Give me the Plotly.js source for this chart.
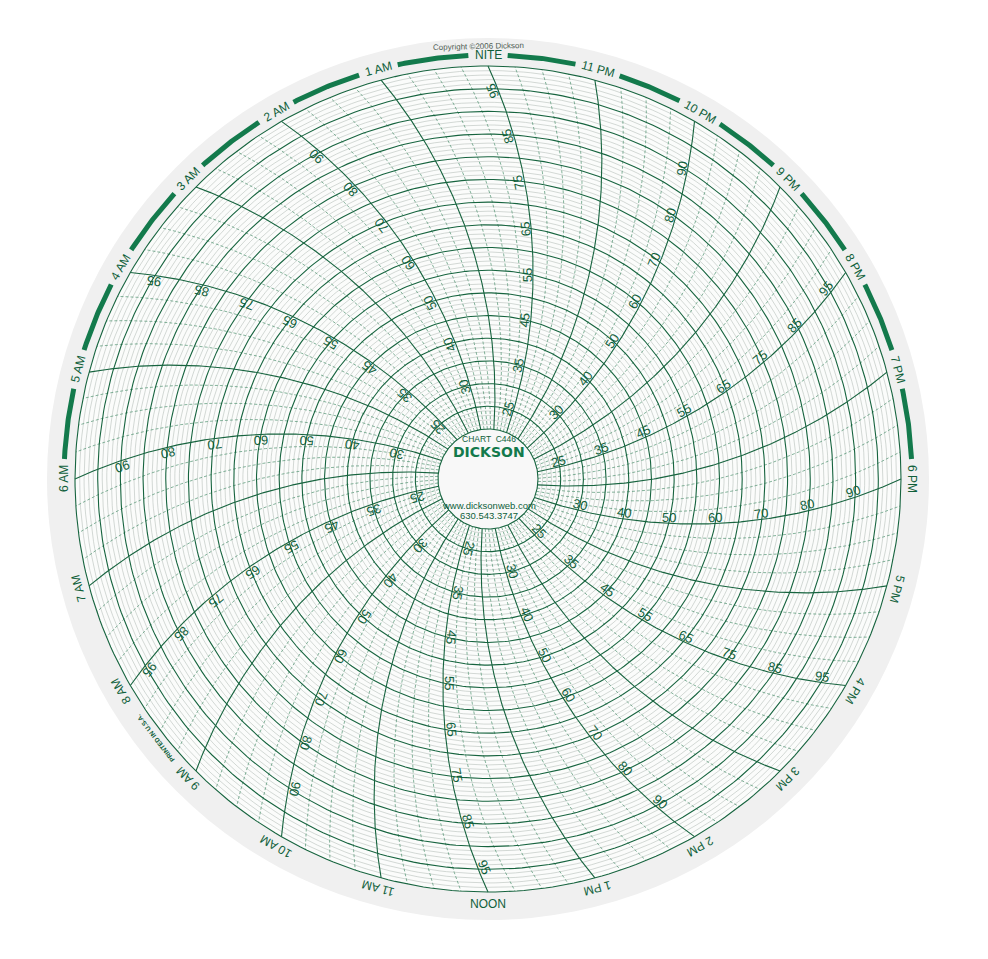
<!DOCTYPE html>
<html><head><meta charset="utf-8">
<script src="https://cdn.plot.ly/plotly-3.0.1.min.js"></script>
<style>html,body{margin:0;padding:0;background:#ffffff;}</style>
</head><body><div id="chart" style="width:988px;height:959px;"></div>
<script>
// ---------------- data ----------------
const hourLabels = ['NITE','1 AM','2 AM','3 AM','4 AM','5 AM','6 AM','7 AM','8 AM','9 AM','10 AM','11 AM',
                    'NOON','1 PM','2 PM','3 PM','4 PM','5 PM','6 PM','7 PM','8 PM','9 PM','10 PM','11 PM'];
const scaleMin = 20;
const scaleMax = 100;
const minorStep = 1;
const majorStep = 5;
const subdivisionsPerHour = 4;
const oddLabelValues  = [25, 35, 45, 55, 65, 75, 85, 95];
const evenLabelValues = [30, 40, 50, 60, 70, 80, 90];
const oddLabelHours   = [0, 4, 8, 12, 16, 20];
const evenLabelHours  = [2, 6, 10, 14, 18, 22];
const bandHours       = [18, 19, 20, 21, 22, 23, 0, 1, 2, 3, 4, 5];
const hubLines = ['CHART  C446', 'DICKSON', 'www.dicksonweb.com', '630.543.3747'];
const copyrightText = 'Copyright ©2006 Dickson';
const printedText = 'PRINTED IN U.S.A.';

// ---------------- geometry / style ----------------
const R_OUT = 413, R_HUB = 50, ARM = 1.2 * R_OUT, LABEL_R = 424, DISC_R = 441;
const DARK = '#17643f', BAND = '#137a4c', LIGHT = '#b7c0bb', MID = '#5a9878', TXT = '#0f5f3a';
const FONT = '"Liberation Sans", Arial, sans-serif';
const K = (R_OUT - R_HUB) / (scaleMax - scaleMin);
const D2R = Math.PI / 180;
const TH_R = Math.acos(R_OUT / (2 * ARM));
function rad(v) { return R_HUB + (v - scaleMin) * K; }
function phi(r) { return Math.acos(r / (2 * ARM)) - TH_R; }
function pt(t, v) {
  const r = rad(v);
  const a = (90 + 15 * t) * D2R - phi(r);
  return [r * Math.cos(a), r * Math.sin(a)];
}
function normAng(a) { while (a > 180) a -= 360; while (a <= -180) a += 360; return a; }

const ctx = document.createElement('canvas').getContext('2d');
ctx.font = '12px "Liberation Sans"';
function tw(s) { return ctx.measureText(s).width; }

// ---------------- traces ----------------
function circleTrace(filterFn, color, width) {
  const x = [], y = [];
  for (let v = scaleMin; v <= scaleMax; v += minorStep) {
    if (!filterFn(v)) continue;
    const r = rad(v);
    for (let d = 0; d <= 360; d += 1) { x.push(r * Math.cos(d * D2R)); y.push(r * Math.sin(d * D2R)); }
    x.push(null); y.push(null);
  }
  return {type: 'scatter', mode: 'lines', x, y, line: {color, width}, hoverinfo: 'skip'};
}
function timeTrace(filterFn, color, width, dash) {
  const x = [], y = [];
  const n = hourLabels.length * subdivisionsPerHour;
  for (let i = 0; i < n; i++) {
    if (!filterFn(i)) continue;
    const t = i / subdivisionsPerHour;
    for (let v = scaleMin; v <= scaleMax; v += 0.5) { const p = pt(t, v); x.push(p[0]); y.push(p[1]); }
    x.push(null); y.push(null);
  }
  return {type: 'scatter', mode: 'lines', x, y, line: {color, width, dash: dash || 'solid'}, hoverinfo: 'skip'};
}
function bandTrace() {
  const x = [], y = [];
  bandHours.forEach(h => {
    const h2 = (h + 1) % 24;
    const a1 = (90 + 15 * h) * D2R + (tw(hourLabels[h]) / 2 + 6) / LABEL_R;
    const a2 = (90 + 15 * (h + 1)) * D2R - (tw(hourLabels[h2]) / 2 + 6) / LABEL_R;
    for (let k = 0; k <= 40; k++) {
      const a = a1 + (a2 - a1) * k / 40;
      x.push(LABEL_R * Math.cos(a)); y.push(LABEL_R * Math.sin(a));
    }
    x.push(null); y.push(null);
  });
  return {type: 'scatter', mode: 'lines', x, y, line: {color: BAND, width: 5}, hoverinfo: 'skip'};
}

const traces = [
  circleTrace(v => v % majorStep !== 0, LIGHT, 0.6),
  timeTrace(i => i % subdivisionsPerHour !== 0, MID, 0.75, '3px,2px'),
  circleTrace(v => v % majorStep === 0, DARK, 1.1),
  timeTrace(i => i % subdivisionsPerHour === 0, DARK, 1.1),
  bandTrace()
];

// ---------------- annotations ----------------
const ann = [];
hourLabels.forEach((lbl, h) => {
  const a = 90 + 15 * h;
  ann.push({x: LABEL_R * Math.cos(a * D2R), y: LABEL_R * Math.sin(a * D2R), xref: 'x', yref: 'y',
    text: lbl, showarrow: false, xanchor: 'center', yanchor: 'middle',
    textangle: normAng(90 - a), font: {family: FONT, size: 12, color: TXT}});
});
function valueLabels(hours, values) {
  hours.forEach(h => values.forEach(v => {
    const p = pt(h, v), p1 = pt(h, v - 0.5), p2 = pt(h, v + 0.5);
    const b = Math.atan2(p2[1] - p1[1], p2[0] - p1[0]);
    const off = 6;
    ann.push({x: p[0] - off * Math.sin(b), y: p[1] + off * Math.cos(b), xref: 'x', yref: 'y',
      text: String(v), showarrow: false, xanchor: 'center', yanchor: 'middle',
      textangle: normAng(-b / D2R), font: {family: FONT, size: 13, color: TXT}});
  }));
}
valueLabels(oddLabelHours, oddLabelValues);
valueLabels(evenLabelHours, evenLabelValues);

// hub text
const hubY = [40, 27, -26, -36];
const hubSize = [8.5, 14, 9.5, 9.5];
hubLines.forEach((s, i) => {
  ann.push({x: 1, y: hubY[i], xref: 'x', yref: 'y', text: i === 1 ? '<b>' + s + '</b>' : s, showarrow: false,
    xanchor: 'center', yanchor: 'middle',
    font: {family: i === 1 ? '"DejaVu Sans", sans-serif' : FONT, size: hubSize[i], color: i === 1 ? BAND : TXT}});
});
// copyright and printed notes
{
  const a = 91.3;
  ann.push({x: 433 * Math.cos(a * D2R), y: 433 * Math.sin(a * D2R), xref: 'x', yref: 'y', text: copyrightText,
    showarrow: false, textangle: normAng(90 - a), font: {family: FONT, size: 8, color: '#4f5d54'}});
  const b = 217.9;
  ann.push({x: 422 * Math.cos(b * D2R), y: 422 * Math.sin(b * D2R), xref: 'x', yref: 'y', text: '<b>' + printedText + '</b>',
    showarrow: false, textangle: normAng(90 - b), font: {family: FONT, size: 6.5, color: TXT}});
}

// ---------------- layout ----------------
const shapes = [
  {type: 'circle', xref: 'x', yref: 'y', x0: -DISC_R, y0: -DISC_R, x1: DISC_R, y1: DISC_R,
   fillcolor: '#f0f0f0', line: {width: 0}, layer: 'below'},
  {type: 'circle', xref: 'x', yref: 'y', x0: -R_OUT, y0: -R_OUT, x1: R_OUT, y1: R_OUT,
   fillcolor: '#fbfcfb', line: {width: 0}, layer: 'below'},
  {type: 'circle', xref: 'x', yref: 'y', x0: -R_HUB, y0: -R_HUB, x1: R_HUB, y1: R_HUB,
   fillcolor: '#f8f8f8', line: {width: 0}, layer: 'below'}
];

const layout = {
  width: 988, height: 959,
  margin: {l: 0, r: 0, t: 0, b: 0, pad: 0},
  paper_bgcolor: '#ffffff', plot_bgcolor: '#ffffff',
  showlegend: false, hovermode: false,
  xaxis: {range: [-488, 500], visible: false, fixedrange: true, showgrid: false, zeroline: false},
  yaxis: {range: [-480, 479], visible: false, fixedrange: true, showgrid: false, zeroline: false},
  shapes, annotations: ann
};
Plotly.newPlot('chart', traces, layout, {staticPlot: true, displayModeBar: false});
</script></body></html>
